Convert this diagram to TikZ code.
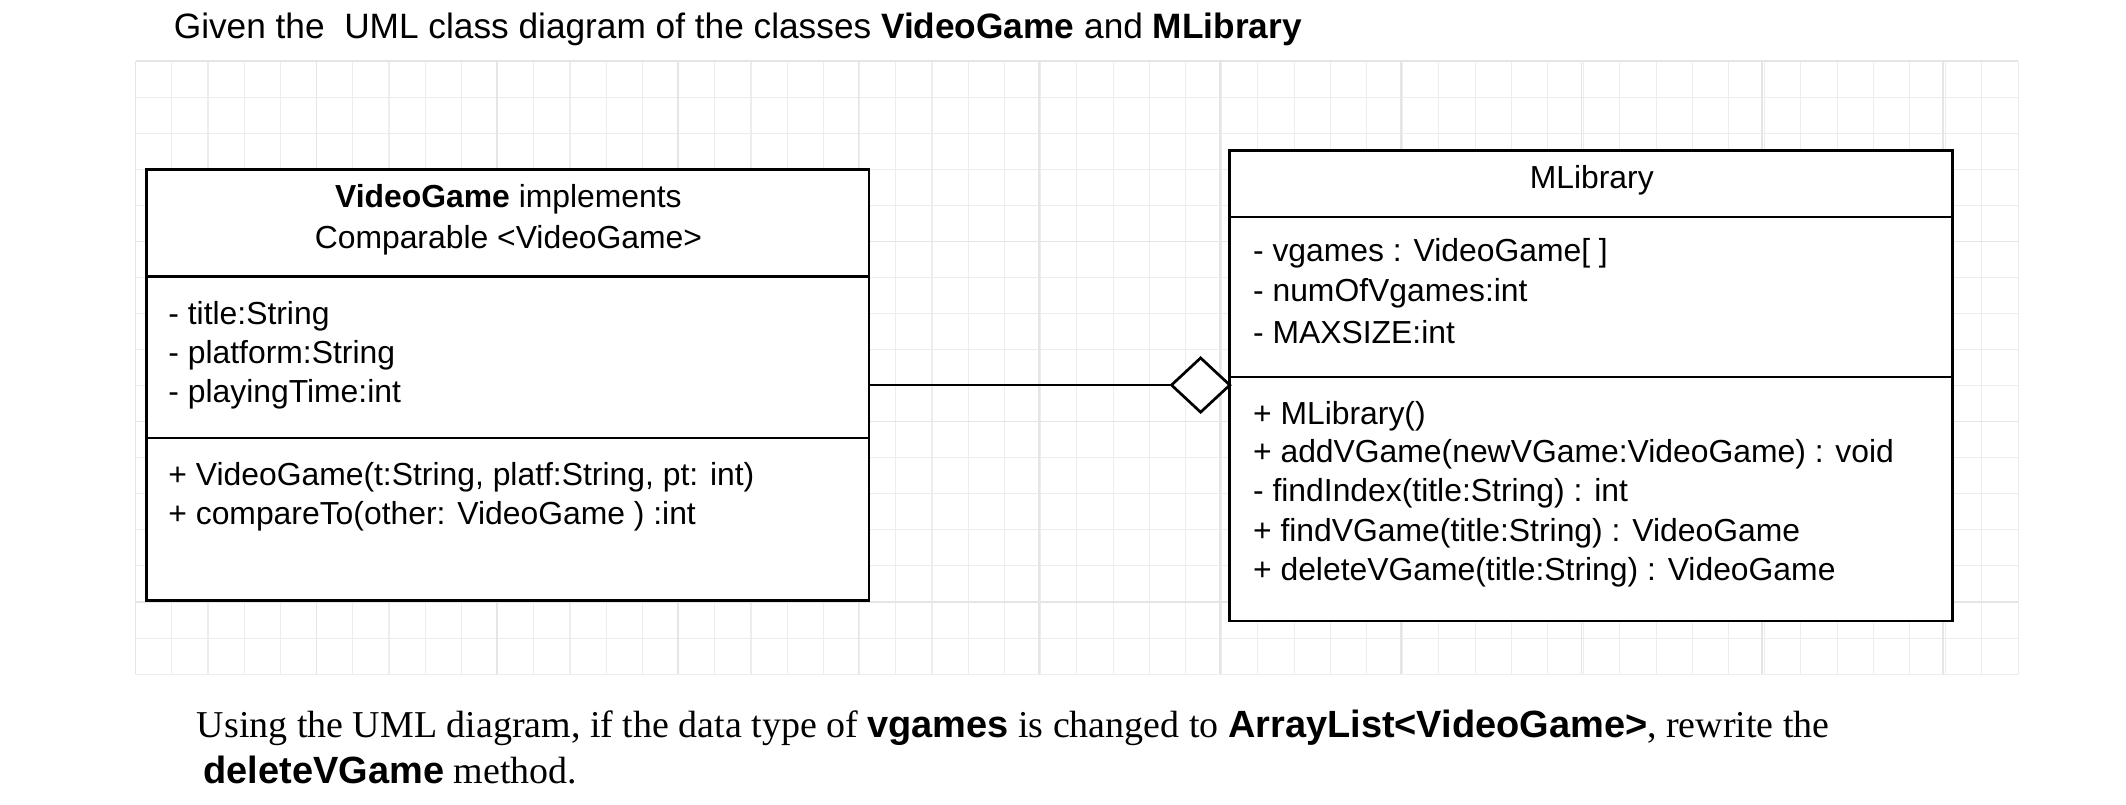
\documentclass[tikz,border=0pt]{standalone}
\usepackage{fontspec}
\setmainfont{Liberation Sans}
\newfontfamily\serif{Liberation Serif}
\newfontfamily\lsans{Liberation Sans}
\newcommand{\bsans}[1]{{\lsans\bfseries #1}}
\begin{document}
\begin{tikzpicture}[x=1pt,y=-1pt,
  box/.style={draw,line width=2pt},
  txt/.style={anchor=west,inner sep=0pt,font=\fontsize{23.5}{28}\selectfont},
  ctxt/.style={inner sep=0pt,font=\fontsize{23.5}{28}\selectfont}]
\useasboundingbox (0,0) rectangle (1568,593);
% grid
\foreach \x in {100,126.7,...,1490} \draw[black!7,line width=0.8pt] (\x,45) -- (\x,497);
\foreach \y in {45,71.6,...,500} \draw[black!7,line width=0.8pt] (100,\y) -- (1488,\y);
\foreach \x in {100,233.3,...,1490} \draw[black!10,line width=1.2pt] (\x,45) -- (\x,497);
\foreach \y in {45,178,...,500} \draw[black!10,line width=1.2pt] (100,\y) -- (1488,\y);
% title
\node[txt,font=\fontsize{26}{30}\selectfont] (t) at (128,22) {Given the\ \ UML class diagram of the classes \textbf{VideoGame} and \textbf{MLibrary}};
% VideoGame
\draw[box,fill=white] (108,125) rectangle (641,443);
\draw[line width=2pt] (108,204) -- (641,204);
\draw[line width=2pt] (108,323) -- (641,323);
\node[ctxt] (vg1) at (375,147) {\textbf{VideoGame} implements};
\node[ctxt] (vg2) at (375,177) {Comparable <VideoGame>};
\node[txt] (a1) at (124,233) {- title:String};
\node[txt] (a2) at (124,262) {- platform:String};
\node[txt] (a3) at (124,291) {- playingTime:int};
\node[txt] (m1) at (124,352) {+ VideoGame(t:String, platf:String, pt: int)};
\node[txt] (m2) at (124,381) {+ compareTo(other: VideoGame ) :int};
% MLibrary
\draw[box,fill=white] (907,111) rectangle (1440,458);
\draw[line width=2pt] (907,160) -- (1440,160);
\draw[line width=2pt] (907,278) -- (1440,278);
\node[ctxt] (ml) at (1174,133) {MLibrary};
\node[txt] (b1) at (924,187) {- vgames : VideoGame[ ]};
\node[txt] (b2) at (924,216) {- numOfVgames:int};
\node[txt] (b3) at (924,245) {- MAXSIZE:int};
\node[txt] (n1) at (924,307) {+ MLibrary()};
\node[txt] (n2) at (924,335) {+ addVGame(newVGame:VideoGame) : void};
\node[txt] (n3) at (924,364) {- findIndex(title:String) : int};
\node[txt] (n4) at (924,393) {+ findVGame(title:String) : VideoGame};
\node[txt] (n5) at (924,422) {+ deleteVGame(title:String) : VideoGame};
% association
\coordinate (p) at (641,284);
\coordinate (q) at (907,284);
\draw[line width=2pt] (p) -- (864,284);
\draw[line width=2pt,fill=white,line join=miter] (q) -- (885.5,264) -- (864,284) -- (885.5,304) -- cycle;
% bottom text
\node[txt,font=\serif\fontsize{28}{32}\selectfont] (u1) at (145,537) {Using the UML diagram, if the data type of \bsans{vgames} is changed to \bsans{ArrayList<VideoGame>}, rewrite the};
\node[txt,font=\serif\fontsize{28}{32}\selectfont] (u2) at (150,568) {\bsans{deleteVGame} method.};
\end{tikzpicture}
\end{document}
